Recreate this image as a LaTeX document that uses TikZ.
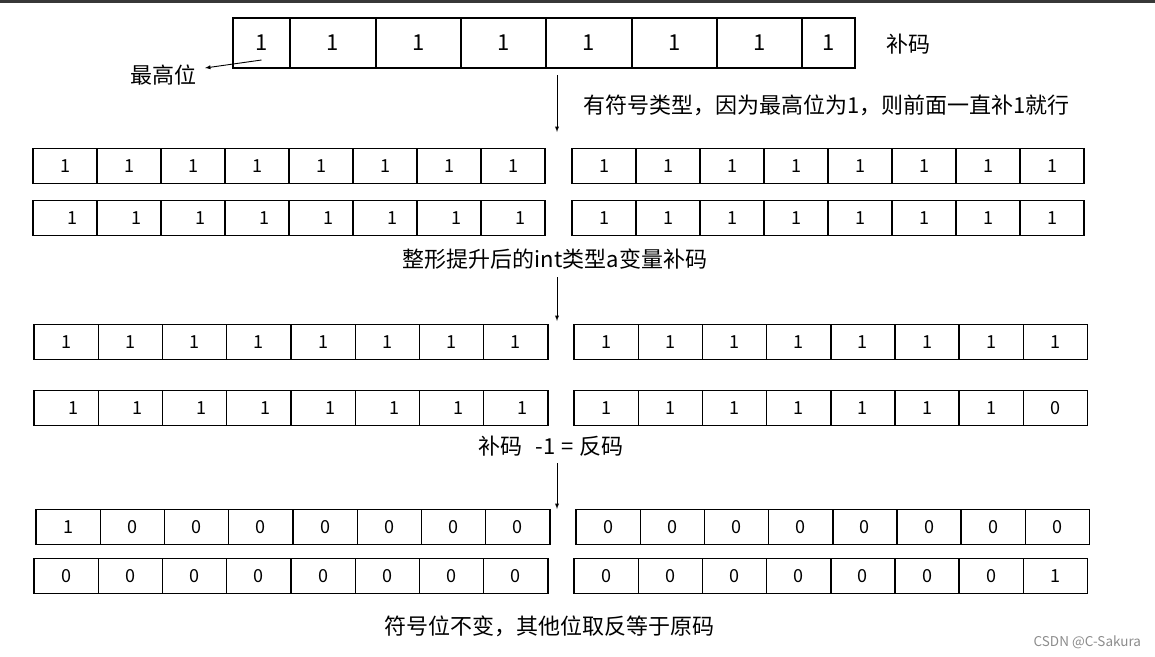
\documentclass[tikz,border=0pt]{standalone}
\usepackage{fontspec}
\setmainfont{Noto Sans CJK SC}

\begin{document}
\begin{tikzpicture}[x=1pt,y=-1pt]
        \tikzstyle{every node}=[inner sep=0pt, outer sep=0pt]
        \tikzstyle{bit}=[draw, rectangle, line width=1.1pt, anchor=west, minimum height=35pt, font=\fontsize{18}{18}\selectfont]
        \tikzstyle{topbit}=[bit, minimum height=50pt, font=\fontsize{22}{22}\selectfont]
        \tikzstyle{note}=[font=\fontsize{22}{25}\selectfont]
        \tikzstyle{arr}=[-latex, line width=0.9pt]
        \useasboundingbox (0,0) rectangle (1155,656);
        \fill[black!78] (0,0) rectangle (1155,3);
        % char a: one byte
        \foreach \i/\l/\r in {1/233/290, 2/290/376, 3/376/461, 4/461/546, 5/546/632, 6/632/717, 7/717/802, 8/802/855} {
            \pgfmathsetmacro\w{\r-\l}
            \node[topbit, minimum width=\w pt] (a\i) at (\l,43) {1};
        }
        \node[note] (code) at (908,44) {补码};
        \node[note] (msb) at (163,75) {最高位};
        \draw[arr] ([yshift=-17pt]a1.center) -- ([xshift=9pt,yshift=7pt]msb.east);
        % int a: four bytes per step
        \foreach \n/\x/\y/\w/\s/\bits in {
            pL/33/166/64/0/{1,1,1,1,1,1,1,1}, pR/572/166/64/0/{1,1,1,1,1,1,1,1},
            qL/33/218/64/14/{1,1,1,1,1,1,1,1}, qR/572/218/64/0/{1,1,1,1,1,1,1,1},
            rL/34/342/64.25/0/{1,1,1,1,1,1,1,1}, rR/574/342/64.2/0/{1,1,1,1,1,1,1,1},
            sL/34/408/64.25/14/{1,1,1,1,1,1,1,1}, sR/574/408/64.2/0/{1,1,1,1,1,1,1,0},
            tL/36/527/64.25/0/{1,0,0,0,0,0,0,0}, tR/576/527/64.2/0/{0,0,0,0,0,0,0,0},
            uL/34/576/64.25/0/{0,0,0,0,0,0,0,0}, uR/574/576/64.2/0/{0,0,0,0,0,0,0,1}} {
            \foreach \b [count=\k] in \bits
                \node[bit, minimum width=\w pt] (\n\k) at ({\x+(\k-1)*\w},\y) {\hspace*{\s pt}\b};
        }
        \foreach \n in {rL,rR,sL,sR,tL,tR,uL,uR}
            \foreach \k in {2,4,6}
                \draw[line width=1.8pt] (\n\k.north east) -- (\n\k.south east);
        \node[note, anchor=west] (sign) at (583,105) {有符号类型，因为最高位为1，则前面一直补1就行};
        \node[note] (promo) at (555,259) {整形提升后的int类型a变量补码};
        \node[note] (minus) at (551,446) {补码\hspace{13pt}-1\hspace{6pt}=\hspace{6pt}反码};
        \node[note] (orig) at (549,626) {符号位不变，其他位取反等于原码};
        \node[anchor=east, text=black!45, font=\fontsize{13.5}{14}\selectfont] (mark) at (1141,642) {CSDN @C-Sakura};
        \coordinate (d1) at (557,75);  \coordinate (e1) at (557,132);
        \coordinate (d2) at (557,277); \coordinate (e2) at (557,321);
        \coordinate (d3) at (557,463); \coordinate (e3) at (557,509);
        \draw[arr] (d1) -- (e1);
        \draw[arr] (d2) -- (e2);
        \draw[arr] (d3) -- (e3);
    \end{tikzpicture}
\end{document}
